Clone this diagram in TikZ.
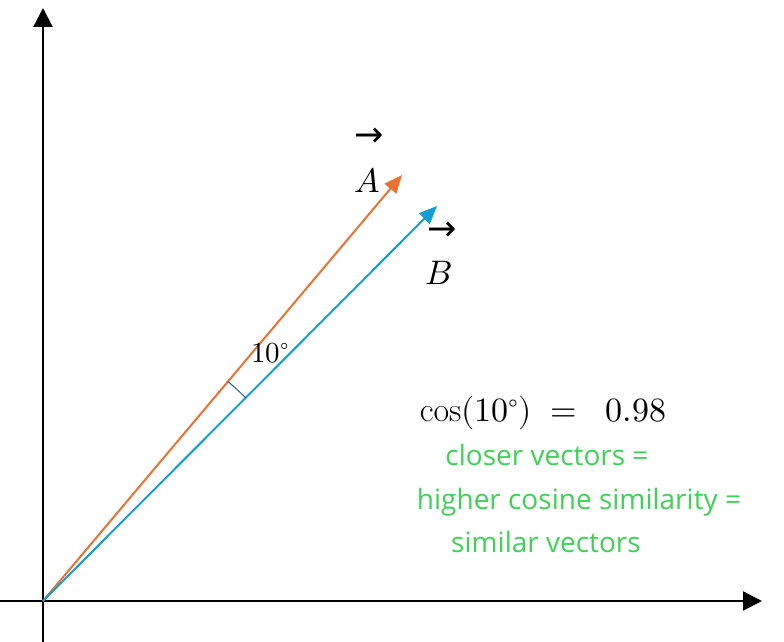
\documentclass[tikz,border=0pt]{standalone}
\usepackage{fontspec}
\usepackage{unicode-math}
\newfontfamily\greenfont{Open Sans}
\newfontfamily\arrowfont{DejaVu Sans}
\usetikzlibrary{arrows.meta,calc}
\definecolor{vecA}{RGB}{233,113,50}
\definecolor{vecB}{RGB}{21,158,214}
\definecolor{txtgreen}{RGB}{61,209,86}
\definecolor{arccol}{RGB}{40,95,130}
\tikzset{
  axis/.style={line width=2.2pt,-{Triangle[length=19pt,width=19pt]}},
  vecline/.style={line width=2pt,-{Triangle[length=18pt,width=15pt]}},
  vlabel/.style={inner sep=0pt,font=\fontsize{34}{34}\selectfont},
  varrow/.style={inner sep=0pt,font=\arrowfont\fontsize{35}{35}\selectfont},
  gtext/.style={inner sep=0pt,text=txtgreen,font=\greenfont\fontsize{28}{28}\selectfont},
}
\begin{document}
\begin{tikzpicture}[x=1pt,y=1pt]
\useasboundingbox (0,0) rectangle (784,642);
\coordinate (O) at (43,41);
\coordinate (ybot) at (43,0);
\coordinate (ytop) at (43,634);
\coordinate (xl) at (0,41);
\coordinate (xr) at (762,41);
\coordinate (Atip) at (402,467);
\coordinate (Btip) at (437,436);
\draw[axis] (ybot) -- (ytop);
\draw[axis] (xl) -- (xr);
\draw[vecline,vecA] (O) -- (Atip);
\draw[vecline,vecB] (O) -- (Btip);
\draw[arccol,line width=1pt] ($(O)+(45:287)$) arc[start angle=45,end angle=50,radius=287];
\node[varrow] (Aarr) at (369,505) {→};
\node[vlabel] (A) at (367,462) {$A$};
\node[varrow] (Barr) at (442,411) {→};
\node[vlabel] (B) at (439,369) {$B$};
\node[inner sep=0pt,font=\fontsize{29}{29}\selectfont] (ang) at (270,289) {$10^{\circ}$};
\node[inner sep=0pt,font=\fontsize{34}{34}\selectfont] (cosl) at (543,229) {$\cos(10^{\circ})\;=\;\;0.98$};
\node[gtext] (g1) at (547,187) {closer vectors =};
\node[gtext] (g2) at (579,140) {higher cosine similarity =};
\node[gtext] (g3) at (546,100) {similar vectors};
\end{tikzpicture}
\end{document}
